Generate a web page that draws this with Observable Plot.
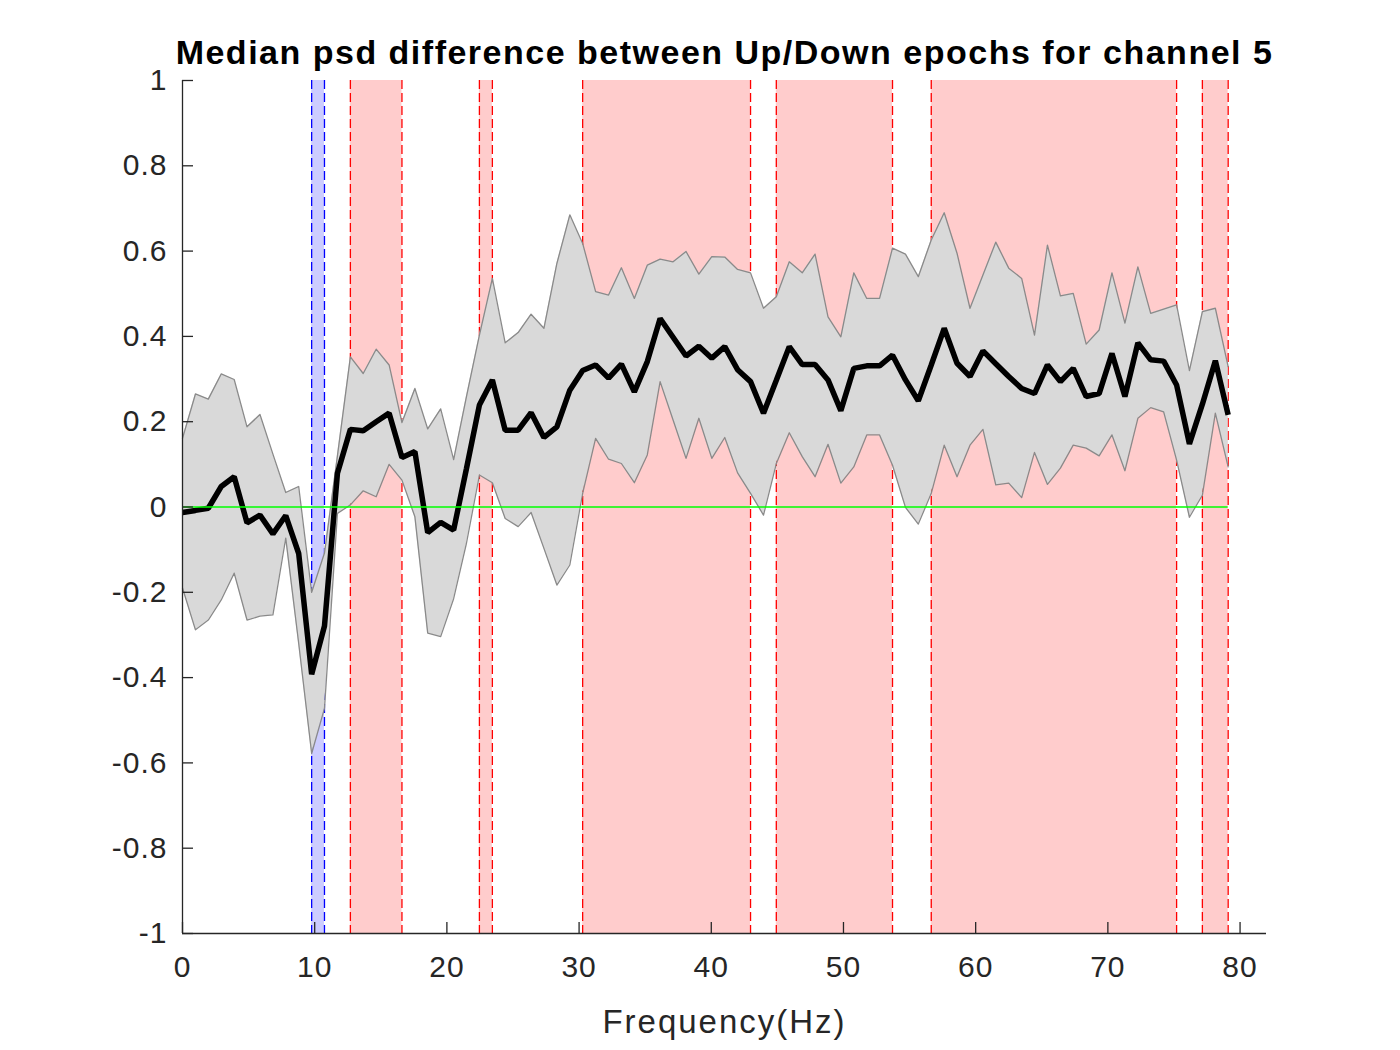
<!DOCTYPE html>
<html>
<head>
<meta charset="utf-8">
<script src="https://cdn.jsdelivr.net/npm/d3@7"></script>
<script src="https://cdn.jsdelivr.net/npm/@observablehq/plot@0.6"></script>
<style>
  html, body { margin: 0; padding: 0; background: #fff; }
  #chart svg { display: block; font-family: "Liberation Sans", Arial, sans-serif; }
</style>
</head>
<body>
<div id="chart"></div>
<script>
// Frequency bins (Hz)
const freq = [0, 0.98, 1.95, 2.93, 3.91, 4.88, 5.86, 6.84, 7.81, 8.79,
  9.77, 10.74, 11.72, 12.70, 13.67, 14.65, 15.63, 16.60, 17.58, 18.55,
  19.53, 20.51, 21.48, 22.46, 23.44, 24.41, 25.39, 26.37, 27.34, 28.32,
  29.30, 30.27, 31.25, 32.23, 33.20, 34.18, 35.16, 36.13, 37.11, 38.09,
  39.06, 40.04, 41.02, 41.99, 42.97, 43.95, 44.92, 45.90, 46.88, 47.85,
  48.83, 49.80, 50.78, 51.76, 52.73, 53.71, 54.69, 55.66, 56.64, 57.62,
  58.59, 59.57, 60.55, 61.52, 62.50, 63.48, 64.45, 65.43, 66.41, 67.38,
  68.36, 69.34, 70.31, 71.29, 72.27, 73.24, 74.22, 75.20, 76.17, 77.15,
  78.13, 79.10];

// Median psd difference
const median = [-0.013, -0.008, -0.003, 0.048, 0.071, -0.037, -0.019, -0.063, -0.020, -0.109,
  -0.392, -0.279, 0.079, 0.182, 0.179, 0.200, 0.220, 0.116, 0.130, -0.060,
  -0.036, -0.054, 0.090, 0.239, 0.298, 0.180, 0.180, 0.221, 0.163, 0.188,
  0.274, 0.320, 0.333, 0.302, 0.335, 0.270, 0.341, 0.442, 0.398, 0.354,
  0.377, 0.349, 0.376, 0.322, 0.294, 0.220, 0.297, 0.376, 0.334, 0.334,
  0.298, 0.226, 0.325, 0.331, 0.331, 0.356, 0.298, 0.249, 0.333, 0.419,
  0.337, 0.306, 0.366, 0.336, 0.306, 0.278, 0.266, 0.333, 0.294, 0.325,
  0.259, 0.266, 0.360, 0.259, 0.385, 0.345, 0.342, 0.286, 0.148, 0.241,
  0.343, 0.216];

// Upper edge of the grey band
const upper = [0.161, 0.265, 0.253, 0.312, 0.299, 0.188, 0.217, 0.124, 0.034, 0.048,
  -0.200, -0.108, 0.120, 0.352, 0.313, 0.370, 0.333, 0.198, 0.278, 0.183,
  0.230, 0.111, 0.259, 0.403, 0.536, 0.385, 0.409, 0.452, 0.419, 0.571,
  0.685, 0.618, 0.505, 0.497, 0.561, 0.489, 0.567, 0.581, 0.575, 0.599,
  0.546, 0.587, 0.586, 0.557, 0.549, 0.466, 0.493, 0.575, 0.549, 0.593,
  0.446, 0.399, 0.549, 0.489, 0.489, 0.607, 0.593, 0.540, 0.626, 0.690,
  0.595, 0.466, 0.544, 0.621, 0.560, 0.536, 0.403, 0.614, 0.495, 0.501,
  0.382, 0.415, 0.549, 0.431, 0.563, 0.454, 0.464, 0.474, 0.320, 0.458,
  0.466, 0.329];

// Lower edge of the grey band
const lower = [-0.190, -0.288, -0.265, -0.218, -0.155, -0.265, -0.256, -0.253, -0.073, -0.320,
  -0.578, -0.472, -0.015, 0.005, 0.038, 0.024, 0.100, 0.063, -0.023, -0.296,
  -0.304, -0.215, -0.085, 0.075, 0.057, -0.027, -0.046, -0.013, -0.097, -0.183,
  -0.136, 0.032, 0.161, 0.112, 0.102, 0.057, 0.122, 0.294, 0.204, 0.114,
  0.208, 0.114, 0.163, 0.080, 0.032, -0.019, 0.102, 0.174, 0.118, 0.071,
  0.147, 0.056, 0.094, 0.169, 0.169, 0.098, -0.001, -0.040, 0.032, 0.145,
  0.071, 0.145, 0.182, 0.052, 0.056, 0.022, 0.128, 0.053, 0.091, 0.145,
  0.138, 0.120, 0.169, 0.085, 0.208, 0.233, 0.223, 0.110, -0.024, 0.028,
  0.220, 0.094];

// Significant bands (Hz)
const redStart = [12.70, 22.46, 30.27, 44.92, 56.64, 77.15];
const redEnd   = [16.60, 23.44, 42.97, 53.71, 75.20, 79.10];
const blueStart = [9.77];
const blueEnd   = [10.74];

const xTicks = [0, 10, 20, 30, 40, 50, 60, 70, 80];
const yTicks = [-1, -0.8, -0.6, -0.4, -0.2, 0, 0.2, 0.4, 0.6, 0.8, 1];

const titleText = "Median psd difference between Up/Down epochs for channel 5";
const xLabel = "Frequency(Hz)";

const table = freq.map((f, i) => ({f, med: median[i], hi: upper[i], lo: lower[i]}));
const redRegions = redStart.map((s, i) => ({s, e: redEnd[i]}));
const blueRegions = blueStart.map((s, i) => ({s, e: blueEnd[i]}));
const redEdges = redStart.concat(redEnd);
const blueEdges = blueStart.concat(blueEnd);

const W = 1400, H = 1050;
const mL = 182, mR = 134, mT = 80, mB = 117;
const frameW = W - mL - mR, frameH = H - mT - mB;
const axisColor = "#262626";
const fmt = d => (d === 0 ? "0" : String(+d.toFixed(1)));

const chart = Plot.plot({
  width: W,
  height: H,
  marginLeft: mL,
  marginRight: mR,
  marginTop: mT,
  marginBottom: mB,
  style: {fontFamily: "'Liberation Sans', Arial, sans-serif", background: "#fff"},
  x: {domain: [0, 82]},
  y: {domain: [-1, 1]},
  marks: [
    Plot.rect(redRegions, {x1: "s", x2: "e", fill: "#ffcccc"}),
    Plot.rect(blueRegions, {x1: "s", x2: "e", fill: "#ccccff"}),
    Plot.ruleX(redEdges, {x: d => d, stroke: "#ff0000", strokeWidth: 1.3, strokeDasharray: "9,4"}),
    Plot.ruleX(blueEdges, {x: d => d, stroke: "#0000ff", strokeWidth: 1.3, strokeDasharray: "9,4"}),
    Plot.areaY(table, {x: "f", y1: "lo", y2: "hi", fill: "#d9d9d9"}),
    Plot.line(table, {x: "f", y: "hi", stroke: "#8a8a8a", strokeWidth: 1.3}),
    Plot.line(table, {x: "f", y: "lo", stroke: "#8a8a8a", strokeWidth: 1.3}),
    Plot.line(table, {x: "f", y: "med", stroke: "#000", strokeWidth: 5.5, strokeLinejoin: "miter", strokeLinecap: "butt"}),
    Plot.ruleY([0], {x1: freq[0], x2: freq[freq.length - 1], stroke: "#00ff00", strokeWidth: 1.5}),
    // axes lines
    Plot.ruleX([0], {stroke: axisColor, strokeWidth: 1.3}),
    Plot.ruleY([-1], {stroke: axisColor, strokeWidth: 1.3}),
    // inward ticks
    Plot.tickX(xTicks, {x: d => d, stroke: axisColor, strokeWidth: 1.3, insetTop: frameH - 11}),
    Plot.tickY(yTicks, {y: d => d, stroke: axisColor, strokeWidth: 1.3, insetRight: frameW - 11}),
    Plot.axisX({ticks: xTicks, tickSize: 0, tickPadding: 22, fontSize: 30, tickFormat: d => String(d), color: axisColor, label: null}),
    Plot.axisY({ticks: yTicks, tickSize: 0, tickPadding: 15, fontSize: 30, tickFormat: fmt, color: axisColor, label: null}),
    Plot.text([xLabel], {text: d => d, frameAnchor: "bottom", lineAnchor: "bottom", dy: 99, fontSize: 33, fill: axisColor}),
    Plot.text([titleText], {text: d => d, frameAnchor: "top", lineAnchor: "bottom", dy: -17, fontSize: 34, fontWeight: "bold", fill: "#000"})
  ]
});

document.getElementById("chart").appendChild(chart);
// letter spacing to mimic the wider reference glyphs
d3.select(chart).selectAll("g[font-size='34'] text").style("letter-spacing", "1.5px");
d3.select(chart).selectAll("g[font-size='33'] text").style("letter-spacing", "2px");
d3.select(chart).selectAll("g[font-size='30'] text").style("letter-spacing", "1px");
</script>
</body>
</html>
